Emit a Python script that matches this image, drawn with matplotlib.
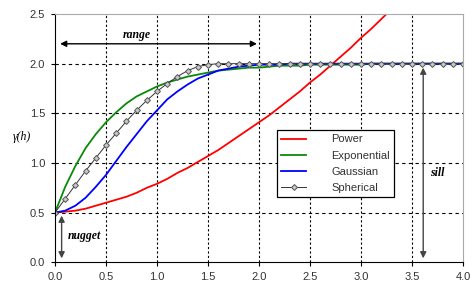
import numpy as np
import matplotlib
matplotlib.use("Agg")
import matplotlib.pyplot as plt

plt.rcParams["font.family"] = ["Liberation Sans", "DejaVu Sans"]

# lag distances (h) sampled every 0.1
h = np.round(np.arange(0, 4.01, 0.1), 1)

power = [0.50, 0.51, 0.52, 0.54, 0.57, 0.60, 0.63, 0.66, 0.70, 0.75,
         0.79, 0.84, 0.90, 0.95, 1.01, 1.07, 1.13, 1.20, 1.27, 1.34,
         1.41, 1.48, 1.56, 1.64, 1.72, 1.81, 1.89, 1.98, 2.07, 2.16,
         2.26, 2.35, 2.45, 2.55, 2.65]
exponential = [0.50, 0.76, 0.97, 1.15, 1.29, 1.41, 1.51, 1.60, 1.67, 1.72,
               1.77, 1.81, 1.84, 1.87, 1.89, 1.91, 1.93, 1.94, 1.95, 1.96,
               1.96, 1.97, 1.98, 1.98, 1.98, 1.99, 1.99, 1.99, 1.99, 1.99,
               1.99, 2.00, 2.00, 2.00, 2.00, 2.00, 2.00, 2.00, 2.00, 2.00, 2.00]
gaussian = [0.50, 0.52, 0.57, 0.65, 0.76, 0.88, 1.02, 1.16, 1.29, 1.42,
            1.53, 1.64, 1.72, 1.79, 1.85, 1.89, 1.93, 1.95, 1.97, 1.98,
            1.99, 1.99, 1.99, 2.00, 2.00, 2.00, 2.00, 2.00, 2.00, 2.00,
            2.00, 2.00, 2.00, 2.00, 2.00, 2.00, 2.00, 2.00, 2.00, 2.00, 2.00]
spherical = [0.50, 0.64, 0.78, 0.92, 1.05, 1.18, 1.30, 1.42, 1.53, 1.63,
             1.72, 1.80, 1.87, 1.93, 1.97, 1.99, 2.00, 2.00, 2.00, 2.00,
             2.00, 2.00, 2.00, 2.00, 2.00, 2.00, 2.00, 2.00, 2.00, 2.00,
             2.00, 2.00, 2.00, 2.00, 2.00, 2.00, 2.00, 2.00, 2.00, 2.00, 2.00]

fig = plt.figure(figsize=(4.74, 2.89), dpi=100)
ax = fig.add_axes([55 / 474, 1 - 262.3 / 289, 408 / 474, 248.3 / 289])

ax.plot(h[:len(power)], power, color="#ff0000", lw=1.3, label="Power")
ax.plot(h, exponential, color="#088a08", lw=1.3, label="Exponential")
ax.plot(h, gaussian, color="#0000ff", lw=1.3, label="Gaussian")
ax.plot(h, spherical, color="#333333", lw=0.7, marker="D", markersize=3.0,
        markerfacecolor="#c8c8c8", markeredgecolor="#555555",
        markeredgewidth=0.7, label="Spherical")

ax.set_xlim(0, 4)
ax.set_ylim(0, 2.5)
ax.set_xticks(np.arange(0, 4.01, 0.5))
ax.set_yticks(np.arange(0, 2.51, 0.5))
ax.xaxis.set_major_formatter(matplotlib.ticker.FormatStrFormatter("%.1f"))
ax.yaxis.set_major_formatter(matplotlib.ticker.FormatStrFormatter("%.1f"))
ax.tick_params(labelsize=8, labelcolor="#333333", length=3, width=0.8,
               direction="out", pad=4)

for y in np.arange(0.5, 2.01, 0.5):
    ax.axhline(y, color="black", lw=0.8, ls=(0, (3, 3)), zorder=0.5)
for x in np.arange(0.5, 3.51, 0.5):
    ax.axvline(x, color="black", lw=0.8, ls=(0, (2, 2)), zorder=0.5)

for side in ("top", "right"):
    ax.spines[side].set_color("#aaaaaa")
for side in ("left", "bottom"):
    ax.spines[side].set_color("black")

leg = ax.legend(loc="upper left", bbox_to_anchor=(0.544, 0.533),
                borderaxespad=0, fontsize=8, frameon=True, fancybox=False,
                framealpha=1, edgecolor="black", handlelength=2.2,
                handletextpad=2.3, labelspacing=0.55, borderpad=0.4)
leg.get_frame().set_linewidth(0.9)
for t in leg.get_texts():
    t.set_color("#333333")

arrow = dict(arrowstyle="<|-|>", color="black", lw=1.0, mutation_scale=9,
             shrinkA=0, shrinkB=0)
ax.annotate("", xy=(0.05, 2.2), xytext=(1.98, 2.2), arrowprops=arrow)
ax.annotate("", xy=(3.61, 1.96), xytext=(3.61, 0.04),
            arrowprops=dict(arrow, color="#444444"))
ax.annotate("", xy=(0.065, 0.47), xytext=(0.065, 0.04),
            arrowprops=dict(arrow, color="#444444"))

lab = dict(family="Liberation Serif", style="italic", weight="bold", fontsize=8.5)
ax.text(0.8, 2.29, "range", ha="center", va="center", **lab)
ax.text(3.75, 0.90, "sill", ha="center", va="center", **lab)
ax.text(0.13, 0.26, "nugget", ha="left", va="center", **lab)

fig.text(22 / 474, 1 - 137 / 289, "\u03b3(h)", fontsize=8.5, style="italic",
         ha="center", va="center", family="Liberation Serif")

fig.savefig("out.png", dpi=100)
